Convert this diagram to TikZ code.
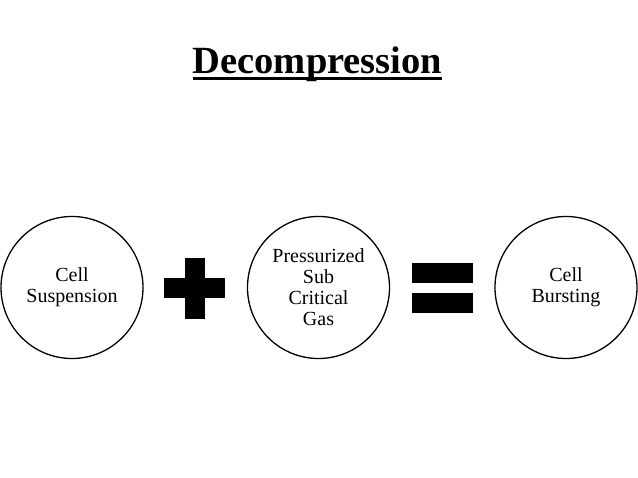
\documentclass[tikz,border=0pt]{standalone}
\usepackage{fontspec}
\setmainfont{Liberation Serif}
\begin{document}
\begin{tikzpicture}[x=1pt,y=-1pt,
  circ/.style={draw=black,line width=1.3pt,circle,minimum size=142pt,inner sep=0pt,align=center,font=\fontsize{20}{21}\selectfont},
  bar/.style={fill=black,draw=none}]
\useasboundingbox (0,0) rectangle (638,478);
\node[anchor=base,inner sep=0pt,font=\fontsize{38.5}{40}\selectfont\bfseries] (title) at (317.5,73.5) {Decompression};
\draw[line width=3pt] ([yshift=-5.5pt]title.base west) -- ([yshift=-5.5pt]title.base east);
\node[circ] (c1) at (72,287.5) {Cell\\Suspension};
\node[circ] (c2) at (318.5,287.5) {Pressurized\\Sub\\Critical\\Gas};
\node[circ] (c3) at (566,287.5) {Cell\\Bursting};
% plus
\fill[bar] (185,258) rectangle (205,319);
\fill[bar] (164,278) rectangle (225,298);
% equals
\fill[bar] (412,263) rectangle (473,283);
\fill[bar] (412,293) rectangle (473,313);
\end{tikzpicture}
\end{document}
